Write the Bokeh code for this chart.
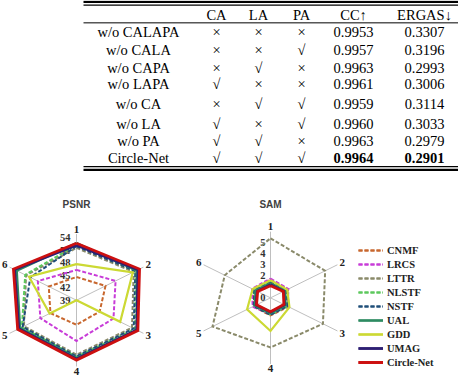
import math
from bokeh.plotting import figure
from bokeh.models import Range1d, Legend, LegendItem
from bokeh.core.properties import value
from bokeh.embed import file_html
from bokeh.resources import INLINE

# ---------------- data ----------------
methods = ["w/o CALAPA", "w/o CALA", "w/o CAPA", "w/o LAPA", "w/o CA", "w/o LA", "w/o PA", "Circle-Net"]
ca = [0, 0, 0, 1, 0, 1, 1, 1]
la = [0, 0, 1, 0, 1, 0, 1, 1]
pa = [0, 1, 0, 0, 1, 1, 0, 1]
cc = [0.9953, 0.9957, 0.9963, 0.9961, 0.9959, 0.9960, 0.9963, 0.9964]
ergas = [0.3307, 0.3196, 0.2993, 0.3006, 0.3114, 0.3033, 0.2979, 0.2901]
headers = ["CA", "LA", "PA", "CC\u2191", "ERGAS\u2193"]

axis_labels = ["1", "2", "3", "4", "5", "6"]
psnr_ticks = [39, 42, 45, 48, 51, 54]
sam_ticks = [0, 1, 2, 3, 4, 5]

series = ["CNMF", "LRCS", "LTTR", "NLSTF", "NSTF", "UAL", "GDD", "UMAG", "Circle-Net"]
psnr_cnmf = [44.6, 45.9, 44.5, 44.9, 45.2, 45.6]
psnr_lrcs = [46.3, 48.3, 47.8, 48.8, 47.6, 48.2]
psnr_lttr = [51.6, 52.6, 52.2, 52.1, 51.5, 51.0]
psnr_nlstf = [52.3, 53.1, 52.9, 52.6, 52.0, 51.2]
psnr_nstf = [52.0, 53.0, 52.6, 52.5, 51.8, 50.0]
psnr_ual = [52.8, 53.3, 53.4, 52.9, 52.4, 53.2]
psnr_gdd = [47.7, 52.4, 49.4, 39.0, 45.4, 50.3]
psnr_umag = [52.2, 53.6, 53.3, 53.1, 52.7, 53.7]
psnr_circle = [52.7, 54.0, 53.6, 53.4, 53.0, 54.0]

sam_cnmf = [1.65, 1.55, 1.6, 1.6, 1.55, 1.55]
sam_lrcs = [1.75, 1.6, 1.55, 1.45, 1.6, 1.65]
sam_lttr = [5.4, 4.9, 4.7, 4.5, 5.2, 4.1]
sam_nlstf = [1.55, 1.45, 1.55, 1.5, 1.45, 1.5]
sam_nstf = [1.45, 1.4, 1.5, 1.55, 1.5, 1.45]
sam_ual = [1.35, 1.3, 1.35, 1.4, 1.4, 1.35]
sam_gdd = [1.6, 1.5, 1.7, 3.0, 2.1, 1.6]
sam_umag = [1.2, 1.2, 1.25, 1.3, 1.3, 1.2]
sam_circle = [1.1, 1.15, 1.2, 1.25, 1.25, 1.15]

psnr_vals = [psnr_cnmf, psnr_lrcs, psnr_lttr, psnr_nlstf, psnr_nstf, psnr_ual, psnr_gdd, psnr_umag, psnr_circle]
sam_vals = [sam_cnmf, sam_lrcs, sam_lttr, sam_nlstf, sam_nstf, sam_ual, sam_gdd, sam_umag, sam_circle]

# ---------------- styles ----------------
colors = ["#C8672E", "#C83CD8", "#8A8A6A", "#5CC85C", "#1F4E79", "#2E8B62", "#CCD934", "#2E1F73", "#CC1010"]
dashes = ["4 2", "4 2", "4 2", "4 2", "4 2", "solid", "solid", "solid", "solid"]
widths = [2, 2, 2, 2, 2, 2.2, 2.2, 2.5, 2.8]

SERIF = value("Liberation Serif")
p = figure(width=458, height=376, output_backend="svg", toolbar_location=None,
           x_range=Range1d(0, 458), y_range=Range1d(392, 0), min_border=0)
p.xaxis.visible = False
p.yaxis.visible = False
p.xgrid.visible = False
p.ygrid.visible = False
p.outline_line_color = None
p.background_fill_color = "white"

# ---------------- table ----------------
tx0, tx1 = 83, 474
p.segment(x0=[tx0, tx0], y0=[1.5, 4.8], x1=[tx1, tx1], y1=[1.5, 4.8], line_color="black", line_width=[2.2, 1.2])
p.segment(x0=[tx0], y0=[23.3], x1=[tx1], y1=[23.3], line_color="black", line_width=1)
p.segment(x0=[tx0, tx0], y0=[173.2, 176.5], x1=[tx1, tx1], y1=[173.2, 176.5], line_color="black", line_width=[1.2, 2.2])

col_x = [216, 258, 301, 353, 424]
label_x = 138
header_y = 15
row_y = [33.3, 51.7, 70, 87.3, 108.3, 128.3, 146.7, 164.3]
fs = "14.5px"
p.text(x=col_x, y=[header_y] * 5, text=headers, text_align="center", text_baseline="middle",
       text_font=SERIF, text_font_size=fs, text_color="black")
p.text(x=[label_x] * len(methods), y=row_y, text=methods, text_align="center", text_baseline="middle",
       text_font=SERIF, text_font_size=fs, text_color="black")
mark = lambda f: "\u221A" if f else "\u00D7"
for cx_, flags in zip(col_x[:3], [ca, la, pa]):
    p.text(x=[cx_] * len(flags), y=row_y, text=[mark(f) for f in flags], text_align="center",
           text_baseline="middle", text_font=SERIF, text_font_size=fs, text_color="black")
n = len(methods)
p.text(x=[col_x[3]] * (n - 1), y=row_y[:-1], text=[f"{v:.4f}" for v in cc[:-1]], text_align="center",
       text_baseline="middle", text_font=SERIF, text_font_size=fs, text_color="black")
p.text(x=[col_x[4]] * (n - 1), y=row_y[:-1], text=[f"{v:.4f}" for v in ergas[:-1]], text_align="center",
       text_baseline="middle", text_font=SERIF, text_font_size=fs, text_color="black")
p.text(x=[col_x[3], col_x[4]], y=[row_y[-1]] * 2, text=[f"{cc[-1]:.4f}", f"{ergas[-1]:.4f}"],
       text_align="center", text_baseline="middle", text_font=SERIF, text_font_size=fs,
       text_font_style="bold", text_color="black")

# ---------------- radar charts ----------------
SX = 1.12  # horizontal stretch of the original picture


def radar_xy(vals, cx, cy, vmin, ppu):
    xs, ys = [], []
    for k, v in enumerate(list(vals) + [vals[0]]):
        th = math.radians(60 * (k % 6))
        r = (v - vmin) * ppu
        xs.append(cx + SX * r * math.sin(th))
        ys.append(cy - r * math.cos(th))
    return xs, ys


charts = [
    dict(title="PSNR", cx=76, cy=312.5, vmin=39, ppu=65 / 15, ticks=psnr_ticks, vals=psnr_vals, tick_x=70),
    dict(title="SAM", cx=270, cy=310, vmin=0, ppu=11.5, ticks=sam_ticks, vals=sam_vals, tick_x=265),
]
renderers = {s: [] for s in series}
for ch in charts:
    cx, cy = ch["cx"], ch["cy"]
    spoke_r, lab_r = 69, 74
    sx0, sy0, sx1, sy1, lx, ly = [], [], [], [], [], []
    for k in range(6):
        th = math.radians(60 * k)
        sx0.append(cx); sy0.append(cy)
        sx1.append(cx + SX * spoke_r * math.sin(th)); sy1.append(cy - spoke_r * math.cos(th))
        lx.append(cx + SX * lab_r * math.sin(th)); ly.append(cy - lab_r * math.cos(th))
    p.segment(x0=sx0, y0=sy0, x1=sx1, y1=sy1, line_color="#BFBFBF", line_width=1)
    p.text(x=lx, y=ly, text=axis_labels, text_align="center", text_baseline="middle",
           text_font=SERIF, text_font_size="11px", text_font_style="bold", text_color="#222222")
    p.text(x=[cx], y=[213], text=[ch["title"]], text_align="center", text_baseline="middle",
           text_font=value("Liberation Sans"), text_font_size="10px", text_font_style="bold",
           text_color="#404040")
    p.text(x=[ch["tick_x"]] * len(ch["ticks"]), y=[cy - (t - ch["vmin"]) * ch["ppu"] for t in ch["ticks"]],
           text=[str(t) for t in ch["ticks"]], text_align="right", text_baseline="middle",
           text_font=SERIF, text_font_size="10.5px", text_font_style="bold", text_color="#333333")
    for name, vals, col, dsh, w in zip(series, ch["vals"], colors, dashes, widths):
        xs, ys = radar_xy(vals, cx, cy, ch["vmin"], ch["ppu"])
        r = p.line(x=xs, y=ys, line_color=col, line_width=w, line_dash=dsh, line_join="miter")
        renderers[name].append(r)

legend = Legend(items=[LegendItem(label=s, renderers=renderers[s]) for s in series],
                location=(358, 8), orientation="vertical")
legend.background_fill_alpha = 0
legend.border_line_alpha = 0
legend.padding = 0
legend.margin = 0
legend.spacing = 2
legend.glyph_width = 25
legend.glyph_height = 12
legend.label_height = 12
legend.label_standoff = 4
legend.label_text_font = "Liberation Serif"
legend.label_text_font_style = "bold"
legend.label_text_font_size = "10.5px"
legend.label_text_color = "#222222"
p.add_layout(legend)

open("out.html", "w").write(file_html(p, INLINE))
